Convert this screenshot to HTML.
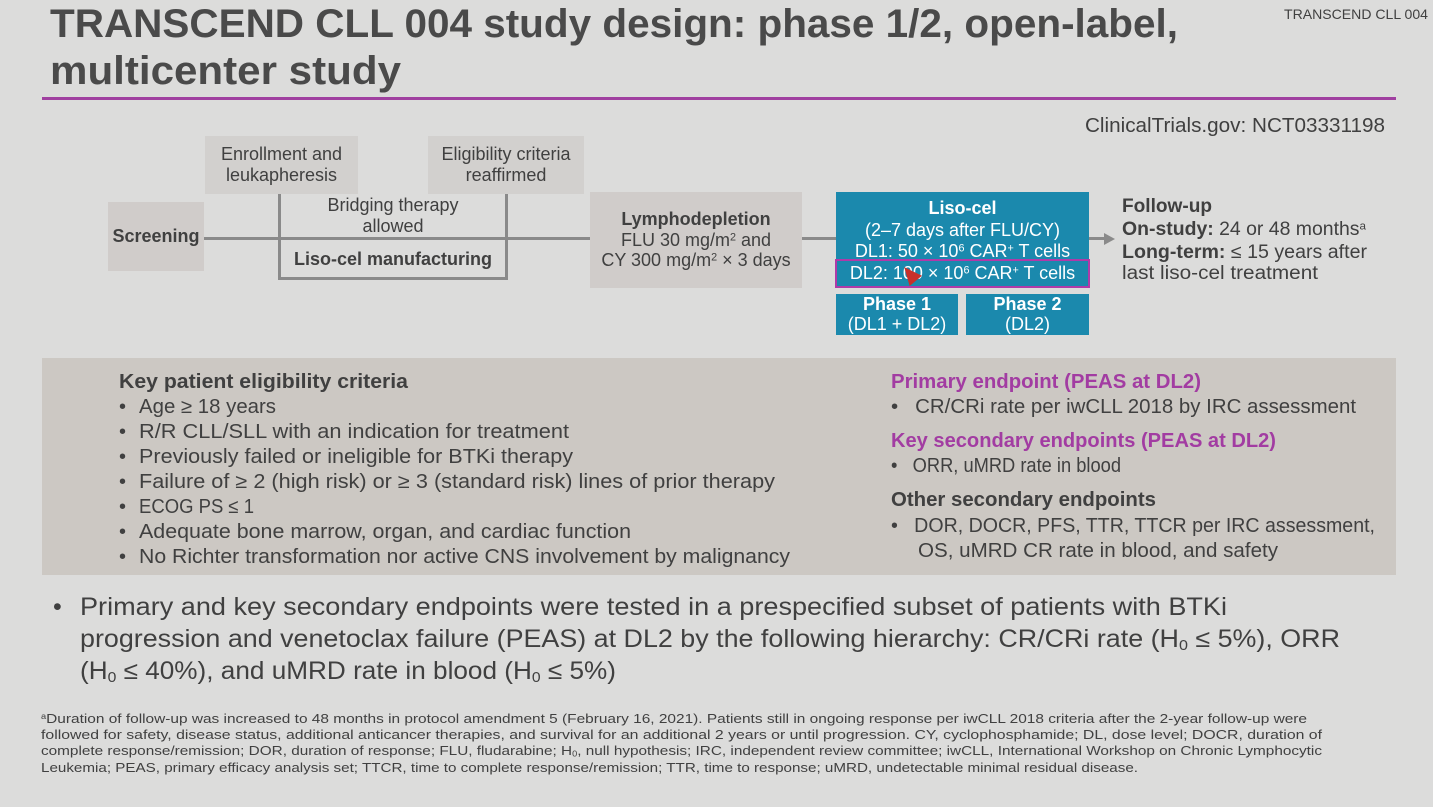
<!DOCTYPE html>
<html><head><meta charset="utf-8">
<style>
body{margin:0;width:1433px;height:807px;overflow:hidden;background:#dcdcdb;font-family:"Liberation Sans",sans-serif;color:#404040;position:relative}
.a{position:absolute;white-space:nowrap;line-height:1}
.f{transform-origin:0 0}
.box{position:absolute;display:flex;align-items:center;justify-content:center;text-align:center;line-height:1.15}
.box>div{white-space:nowrap}
b{font-weight:bold}
.pur{color:#a23ca2;font-weight:bold}
sup{font-size:60%;vertical-align:0.5em;line-height:0}
sub{font-size:60%;vertical-align:-0.2em;line-height:0}
</style></head><body>
<div class="a f" data-w="1128" style="left:50px;top:4px;font-size:40px;font-weight:bold;color:#4a4a4a">TRANSCEND CLL 004 study design: phase 1/2, open-label,</div>
<div class="a f" data-w="351" style="left:50px;top:51px;font-size:40px;font-weight:bold;color:#4a4a4a">multicenter study</div>
<div class="a f" data-w="144" style="left:1284px;top:7px;font-size:14px">TRANSCEND CLL 004</div>
<div class="a" style="left:42px;top:97px;width:1354px;height:3px;background:#a040a0"></div>
<div class="a f" data-w="300" style="left:1085px;top:116px;font-size:20px">ClinicalTrials.gov: NCT03331198</div>

<div class="a" style="left:204px;top:237px;width:632px;height:3px;background:#8a8a8a"></div>
<div class="a" style="left:278px;top:192px;width:224px;height:85px;border:3px solid #8a8a8a;border-top:none"></div>
<div class="box" style="left:205px;top:136px;width:153px;height:58px;background:#d2d0ce;font-size:18px"><div>Enrollment and<br>leukapheresis</div></div>
<div class="box" style="left:428px;top:136px;width:156px;height:58px;background:#d2d0ce;font-size:18px"><div>Eligibility criteria<br>reaffirmed</div></div>
<div class="box" style="left:108px;top:202px;width:96px;height:69px;background:#d0ccca;font-size:18px;font-weight:bold"><div>Screening</div></div>
<div class="box" style="left:281px;top:194px;width:224px;height:44px;font-size:18px"><div>Bridging therapy<br>allowed</div></div>
<div class="box" style="left:281px;top:242px;width:224px;height:34px;font-size:18px;font-weight:bold"><div>Liso-cel manufacturing</div></div>
<div class="box" style="left:590px;top:192px;width:212px;height:96px;background:#d0ccca;font-size:18px"><div><b>Lymphodepletion</b><br>FLU 30 mg/m<sup>2</sup> and<br>CY 300 mg/m<sup>2</sup> × 3 days</div></div>
<div class="box" style="left:836px;top:192px;width:253px;height:96px;background:#1b89ad;color:#fff;font-size:18px;align-items:flex-start;padding-top:6px;box-sizing:border-box;line-height:1.2"><div><b>Liso-cel</b><br>(2–7 days after FLU/CY)<br>DL1: 50 × 10<sup>6</sup> CAR<sup>+</sup> T cells<br>DL2: 100 × 10<sup>6</sup> CAR<sup>+</sup> T cells</div></div>
<div class="a" style="left:835px;top:259px;width:251px;height:25px;border:2px solid #b03aa8"></div>
<div class="a" style="left:902px;top:265px;width:0;height:0;border-left:8px solid transparent;border-right:8px solid transparent;border-bottom:18px solid #c8302a;transform:rotate(-40deg)"></div>
<div class="a" style="left:1089px;top:237px;width:16px;height:3px;background:#8a8a8a"></div>
<div class="a" style="left:1104px;top:233px;width:0;height:0;border-top:6px solid transparent;border-bottom:6px solid transparent;border-left:11px solid #8a8a8a"></div>
<div class="box" style="left:836px;top:294px;width:122px;height:41px;background:#1b89ad;color:#fff;font-size:18px;line-height:1.1"><div><b>Phase 1</b><br>(DL1 + DL2)</div></div>
<div class="box" style="left:966px;top:294px;width:123px;height:41px;background:#1b89ad;color:#fff;font-size:18px;line-height:1.1"><div><b>Phase 2</b><br>(DL2)</div></div>
<div class="a f" data-w="90" style="left:1122px;top:197px;font-size:19px;font-weight:bold">Follow-up</div>
<div class="a f" data-w="244" style="left:1122px;top:220px;font-size:19px"><b>On-study:</b> 24 or 48 months<sup>a</sup></div>
<div class="a f" data-w="245" style="left:1122px;top:243px;font-size:19px"><b>Long-term:</b> ≤ 15 years after</div>
<div class="a f" data-w="196" style="left:1122px;top:264px;font-size:19px">last liso-cel treatment</div>

<div class="a" style="left:42px;top:358px;width:1354px;height:217px;background:#ccc8c3"></div>
<div class="a f" data-w="289" style="left:119px;top:372px;font-size:20px;font-weight:bold">Key patient eligibility criteria</div>
<div id="left"></div>
<div class="a f pur" data-w="310" style="left:891px;top:372px;font-size:20px">Primary endpoint (PEAS at DL2)</div>
<div class="a f" data-w="465" style="left:891px;top:397px;font-size:20px">•&nbsp;&nbsp;&nbsp;CR/CRi rate per iwCLL 2018 by IRC assessment</div>
<div class="a f pur" data-w="385" style="left:891px;top:431px;font-size:20px">Key secondary endpoints (PEAS at DL2)</div>
<div class="a f" data-w="230" style="left:891px;top:456px;font-size:20px">•&nbsp;&nbsp;&nbsp;ORR, uMRD rate in blood</div>
<div class="a f" data-w="265" style="left:891px;top:490px;font-size:20px;font-weight:bold">Other secondary endpoints</div>
<div class="a f" data-w="484" style="left:891px;top:516px;font-size:20px">•&nbsp;&nbsp;&nbsp;DOR, DOCR, PFS, TTR, TTCR per IRC assessment,</div>
<div class="a f" data-w="360" style="left:918px;top:541px;font-size:20px">OS, uMRD CR rate in blood, and safety</div>

<div class="a" style="left:53px;top:595px;font-size:25px">•</div>
<div class="a f" data-w="1147" style="left:80px;top:595px;font-size:25px">Primary and key secondary endpoints were tested in a prespecified subset of patients with BTKi</div>
<div class="a f" data-w="1260" style="left:80px;top:627px;font-size:25px">progression and venetoclax failure (PEAS) at DL2 by the following hierarchy: CR/CRi rate (H<sub>0</sub> ≤ 5%), ORR</div>
<div class="a f" data-w="536" style="left:80px;top:659px;font-size:25px">(H<sub>0</sub> ≤ 40%), and uMRD rate in blood (H<sub>0</sub> ≤ 5%)</div>

<div class="a f" data-w="1266" style="left:41px;top:712px;font-size:13px"><sup>a</sup>Duration of follow-up was increased to 48 months in protocol amendment 5 (February 16, 2021). Patients still in ongoing response per iwCLL 2018 criteria after the 2-year follow-up were</div>
<div class="a f" data-w="1281" style="left:41px;top:728px;font-size:13px">followed for safety, disease status, additional anticancer therapies, and survival for an additional 2 years or until progression. CY, cyclophosphamide; DL, dose level; DOCR, duration of</div>
<div class="a f" data-w="1281" style="left:41px;top:744px;font-size:13px">complete response/remission; DOR, duration of response; FLU, fludarabine; H<sub>0</sub>, null hypothesis; IRC, independent review committee; iwCLL, International Workshop on Chronic Lymphocytic</div>
<div class="a f" data-w="1097" style="left:41px;top:761px;font-size:13px">Leukemia; PEAS, primary efficacy analysis set; TTCR, time to complete response/remission; TTR, time to response; uMRD, undetectable minimal residual disease.</div>

<script>
const items=["Age ≥ 18 years","R/R CLL/SLL with an indication for treatment","Previously failed or ineligible for BTKi therapy","Failure of ≥ 2 (high risk) or ≥ 3 (standard risk) lines of prior therapy","ECOG PS ≤ 1","Adequate bone marrow, organ, and cardiac function","No Richter transformation nor active CNS involvement by malignancy"];
const itemW=[137,430,434,636,115,492,651];
const host=document.getElementById('left');
items.forEach((t,i)=>{
 const b=document.createElement('div');b.className='a';b.style.cssText=`left:119px;top:${397+i*25}px;font-size:20px`;b.textContent='•';
 
 
 host.appendChild(b);
 const d=document.createElement('div');d.className='a f';d.style.cssText=`left:139px;top:${397+i*25}px;font-size:20px`;d.textContent=t;d.dataset.w=itemW[i];
 
 
 host.appendChild(d);
});
document.querySelectorAll('.f').forEach(e=>{const w=+e.dataset.w;const a=e.getBoundingClientRect().width;if(w&&a)e.style.transform=`scaleX(${w/a})`;});
</script>
</body></html>
